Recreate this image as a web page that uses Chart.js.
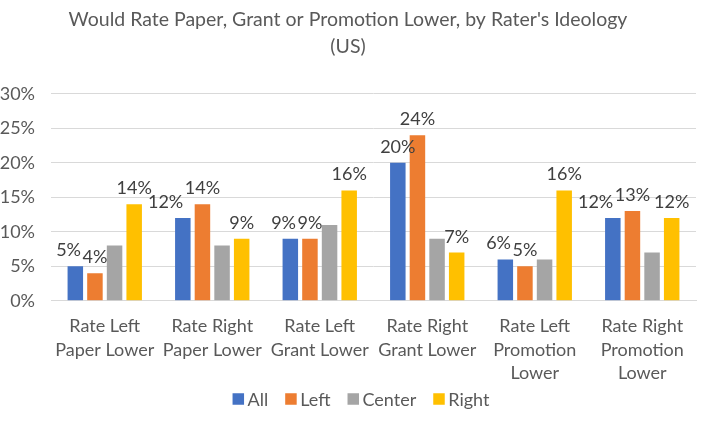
<!DOCTYPE html>
<html>
<head>
<meta charset="utf-8">
<script src="https://cdn.jsdelivr.net/npm/chart.js@4"></script>
<style>
html,body{margin:0;padding:0;background:#fff;}
#wrap{width:716px;height:422px;position:relative;}
</style>
</head>
<body>
<div id="wrap"><canvas id="c" width="716" height="422"></canvas></div>
<script>
const categories = [
  ["Rate Left", "Paper Lower"],
  ["Rate Right", "Paper Lower"],
  ["Rate Left", "Grant Lower"],
  ["Rate Right", "Grant Lower"],
  ["Rate Left", "Promotion", "Lower"],
  ["Rate Right", "Promotion", "Lower"]
];
const allValues = [5, 12, 9, 20, 6, 12];
const leftValues = [4, 14, 9, 24, 5, 13];
const centerValues = [8, 8, 11, 9, 6, 7];
const rightValues = [14, 9, 16, 7, 16, 12];
const yTicks = [0, 5, 10, 15, 20, 25, 30];
const titleLines = ["Would Rate Paper, Grant or Promotion Lower, by Rater's Ideology", "(US)"];

const FONT = "Lato, 'Open Sans', sans-serif";
const TXT = "#595959";

const labelPlugin = {
  id: 'barLabels',
  afterDatasetsDraw(chart) {
    const ctx = chart.ctx;
    ctx.save();
    ctx.font = "18px " + FONT;
    ctx.fillStyle = "#404040";
    ctx.textAlign = "center";
    ctx.textBaseline = "alphabetic";
    const n = chart.data.labels.length;
    for (let j = 0; j < n; j++) {
      const items = [];
      chart.data.datasets.forEach((ds, i) => {
        if (!ds.showLabels) return;
        const bar = chart.getDatasetMeta(i).data[j];
        const t = ds.data[j] + "%";
        const w = ctx.measureText(t).width;
        items.push({t, x: bar.x, y: bar.y - 10, w});
      });
      for (let k = items.length - 2; k >= 0; k--) {
        const a = items[k], b = items[k + 1];
        const overlapV = Math.abs(a.y - b.y) < 18;
        const minDist = (a.w + b.w) / 2 + 1.5;
        if (overlapV && b.x - a.x < minDist) a.x = b.x - minDist;
      }
      items.forEach(it => ctx.fillText(it.t, it.x, it.y));
    }
    ctx.restore();
  }
};

// Bottom legend drawn from the datasets
const legendPlugin = {
  id: 'bottomLegend',
  afterDraw(chart) {
    const ctx = chart.ctx;
    ctx.save();
    ctx.font = "18px " + FONT;
    ctx.textBaseline = "middle";
    ctx.textAlign = "left";
    const box = 11.5, gapText = 3.5, gapItem = 17;
    const items = chart.data.datasets.map(ds => ({t: ds.label, c: ds.backgroundColor, w: ctx.measureText(ds.label).width}));
    const total = items.reduce((s, it) => s + box + gapText + it.w, 0) + gapItem * (items.length - 1);
    let x = chart.width / 2 + 3 - total / 2;
    const cy = 399;
    items.forEach(it => {
      ctx.fillStyle = it.c;
      ctx.fillRect(x, cy - box / 2, box, box);
      x += box + gapText;
      ctx.fillStyle = TXT;
      ctx.fillText(it.t, x, cy + 1);
      x += it.w + gapItem;
    });
    ctx.restore();
  }
};

new Chart(document.getElementById('c'), {
  type: 'bar',
  data: {
    labels: categories,
    datasets: [
      {label: 'All', data: allValues, backgroundColor: '#4472C4', showLabels: true},
      {label: 'Left', data: leftValues, backgroundColor: '#ED7D31', showLabels: true},
      {label: 'Center', data: centerValues, backgroundColor: '#A5A5A5', showLabels: false},
      {label: 'Right', data: rightValues, backgroundColor: '#FFC000', showLabels: true}
    ]
  },
  options: {
    responsive: false,
    animation: false,
    devicePixelRatio: 1,
    layout: {padding: {left: 0, right: 20, top: 6, bottom: 31}},
    datasets: {bar: {categoryPercentage: 0.73, barPercentage: 0.79}},
    plugins: {
      title: {
        display: true,
        text: titleLines,
        color: TXT,
        font: {family: FONT, size: 19.5, weight: 'normal', lineHeight: 1.38},
        padding: {top: 0, bottom: 34}
      },
      legend: {display: false},
      tooltip: {enabled: false}
    },
    scales: {
      x: {
        grid: {display: false},
        border: {color: '#D9D9D9'},
        ticks: {color: TXT, font: {family: FONT, size: 18, lineHeight: 1.3}, maxRotation: 0, autoSkip: false, padding: 6}
      },
      y: {
        min: 0, max: 30,
        afterBuildTicks(axis) { axis.ticks = yTicks.map(v => ({value: v})); },
        afterFit(axis) { axis.width = 51; },
        grid: {color: '#D9D9D9', drawTicks: false},
        border: {display: false},
        ticks: {color: TXT, font: {family: FONT, size: 18}, padding: 16, callback: v => v + '%'}
      }
    }
  },
  plugins: [labelPlugin, legendPlugin]
});
</script>
</body>
</html>
